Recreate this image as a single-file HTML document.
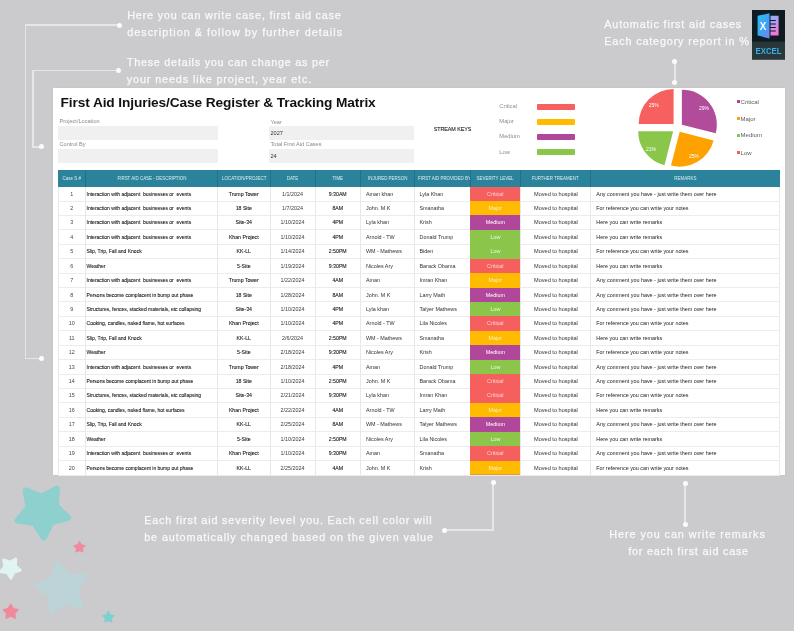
<!DOCTYPE html>
<html><head><meta charset="utf-8"><title>First Aid Injuries/Case Register &amp; Tracking Matrix</title>
<style>
*{margin:0;padding:0;box-sizing:border-box}
html,body{width:794px;height:631px;overflow:hidden}
body{background:#cbcbcd;position:relative;font-family:"Liberation Sans",Arial,sans-serif}
.abs{position:absolute}
.ann{position:absolute;color:#f9f9f9;font-size:10.8px;line-height:12px;white-space:nowrap;-webkit-text-stroke:0.25px #f9f9f9}
.ln{position:absolute;background:#e6e6e8}
.dot{position:absolute;width:5px;height:5px;border-radius:50%;background:#fbfbfb;margin:-2.5px 0 0 -2.5px}
#panel{position:absolute;left:53px;top:88px;width:732px;height:387px;background:#fff;box-shadow:0 0 2px rgba(0,0,0,0.07)}
#title{position:absolute;left:60.6px;top:95.7px;font-size:13.7px;line-height:13.7px;font-weight:bold;color:#111;white-space:nowrap;letter-spacing:-0.11px}
.lbl{position:absolute;font-size:5.6px;color:#8a8a8a;white-space:nowrap}
.box{position:absolute;background:#f0f0f0}
.val{position:absolute;font-size:5.6px;color:#333;white-space:nowrap}
.key{position:absolute;font-size:5.8px;color:#8c8c8c;white-space:nowrap}
.bar{position:absolute;left:536.7px;width:38px;height:6px;border-radius:1px}
.lg{position:absolute;font-size:6px;color:#5a5a5a;white-space:nowrap}
.lgs{position:absolute;width:3px;height:3px}
.th{position:absolute;background:#2b839b}
.hc{position:absolute;color:#d9edf2;font-size:5.2px;padding-top:0.4px;text-align:center;white-space:nowrap;transform:scaleX(0.86)}
.hv{position:absolute;width:1px;background:#236f87}
.td{position:absolute;font-size:5.4px;color:#222;white-space:nowrap;overflow:hidden}
.c0{text-align:center;color:#444}
.c1{padding-left:1.1px;font-size:5.05px;color:#111;-webkit-text-stroke:0.07px #111;letter-spacing:-0.03px}
.c2,.c4{font-size:5.2px;color:#111;-webkit-text-stroke:0.08px #111}
.c2,.c3,.c4{text-align:center}
.c3{color:#3a3a3a}
.c5,.c6{padding-left:5.5px;color:#333}
.c7{text-align:center;color:#fff}
.c8{padding-left:13.6px;color:#333;font-size:5.6px}
.c9{padding-left:5.6px;color:#222}
.crit{background:#f5605f;color:#ffd3d3}
.maj{background:#ffbb00;color:#fff1b8}
.med{background:#b0479b;color:#fff}
.low{background:#8bc64a;color:#e8f8d8}
.hl{position:absolute;height:1px;background:#ececec}
.vl{position:absolute;width:1px;background:#e8e8e8}
</style></head>
<body>
<!-- background stars -->
<svg class="abs" style="left:0;top:0" width="794" height="631" viewBox="0 0 794 631">
<polygon points="56.72,488.94 55.66,505.91 67.8,517.81 51.34,522.04 43.78,537.26 34.67,522.91 17.85,520.43 28.68,507.32 25.85,490.56 41.66,496.82" fill="#8dd0cd" stroke="#8dd0cd" stroke-width="6.4" stroke-linejoin="round"/>
<polygon points="79.5,541.7 81.31,544.81 84.83,545.57 82.43,548.25 82.79,551.83 79.5,550.38 76.21,551.83 76.57,548.25 74.17,545.57 77.69,544.81" fill="#f08a9e" stroke="#f08a9e" stroke-width="1.2" stroke-linejoin="round"/>
<polygon points="15.76,559.07 15.46,565.72 20.29,570.29 13.88,572.06 11.02,578.07 7.35,572.52 0.75,571.66 4.9,566.45 3.68,559.91 9.91,562.25" fill="#e2f3f3" stroke="#e2f3f3" stroke-width="3" stroke-linejoin="round"/>
<polygon points="57.85,564.44 68.2,576.68 84.23,576.85 75.79,590.48 80.58,605.78 65.01,601.95 51.94,611.24 50.76,595.25 37.9,585.69 52.74,579.63" fill="#bcd4d7" stroke="#bcd4d7" stroke-width="5.5" stroke-linejoin="round"/>
<polygon points="10.7,604.4 13.16,608.62 17.93,609.65 14.68,613.29 15.17,618.15 10.7,616.18 6.23,618.15 6.72,613.29 3.47,609.65 8.24,608.62" fill="#f0899c" stroke="#f0899c" stroke-width="1.5" stroke-linejoin="round"/>
<polygon points="108.3,611.5 110.18,614.72 113.82,615.51 111.33,618.29 111.71,621.99 108.3,620.49 104.89,621.99 105.27,618.29 102.78,615.51 106.42,614.72" fill="#7fcfcf" stroke="#7fcfcf" stroke-width="1.2" stroke-linejoin="round"/>
</svg>

<!-- annotations -->
<div class="ann" style="left:127.2px;top:8.86px;letter-spacing:0.821px">Here you can write case, first aid case</div>
<div class="ann" style="left:127.2px;top:25.96px;letter-spacing:1.029px">description &amp; follow by further details</div>
<div class="ann" style="left:126.8px;top:55.56px;letter-spacing:0.759px">These details you can change as per</div>
<div class="ann" style="left:126.8px;top:72.66px;letter-spacing:0.879px">your needs like project, year etc.</div>
<div class="ann" style="left:604.3px;top:18.36px;letter-spacing:0.829px">Automatic first aid cases</div>
<div class="ann" style="left:604.3px;top:35.26px;letter-spacing:0.85px">Each category report in %</div>
<div class="ann" style="left:144.2px;top:513.86px;letter-spacing:0.833px">Each first aid severity level you. Each cell color will</div>
<div class="ann" style="left:144.2px;top:531.06px;letter-spacing:0.902px">be automatically changed based on the given value</div>
<div class="ann" style="left:609.3px;top:528.36px;letter-spacing:0.94px">Here you can write remarks</div>
<div class="ann" style="left:628.3px;top:545.46px;letter-spacing:0.782px">for each first aid case</div>

<!-- connector lines -->
<div class="ln" style="left:24.50px;top:24.20px;width:95.50px;height:1.6px"></div>
<div class="ln" style="left:24.50px;top:24.20px;width:1.6px;height:335.30px"></div>
<div class="ln" style="left:24.50px;top:357.90px;width:18.20px;height:1.6px"></div>
<div class="dot" style="left:119.2px;top:25.0px"></div>
<div class="dot" style="left:41.9px;top:358.7px"></div>
<div class="ln" style="left:32.10px;top:69.90px;width:87.50px;height:1.6px"></div>
<div class="ln" style="left:32.10px;top:69.90px;width:1.6px;height:77.80px"></div>
<div class="ln" style="left:32.10px;top:146.10px;width:10.40px;height:1.6px"></div>
<div class="dot" style="left:118.8px;top:70.7px"></div>
<div class="dot" style="left:41.7px;top:146.9px"></div>
<div class="ln" style="left:674.00px;top:60.20px;width:1.6px;height:23.20px"></div>
<div class="dot" style="left:674.8px;top:61.0px"></div>
<div class="dot" style="left:674.8px;top:82.6px"></div>
<div class="ln" style="left:443.60px;top:529.40px;width:50.20px;height:1.6px"></div>
<div class="ln" style="left:492.20px;top:481.80px;width:1.6px;height:49.20px"></div>
<div class="dot" style="left:444.4px;top:530.2px"></div>
<div class="dot" style="left:493.0px;top:482.6px"></div>
<div class="ln" style="left:684.40px;top:482.40px;width:1.6px;height:43.30px"></div>
<div class="dot" style="left:685.2px;top:483.2px"></div>
<div class="dot" style="left:685.2px;top:524.9px"></div>

<!-- excel icon -->
<svg class="abs" style="left:751.5px;top:10px" width="33" height="49.5" viewBox="0 0 33 49.5">
<defs><linearGradient id="gA" x1="0" y1="0" x2="1" y2="1"><stop offset="0" stop-color="#2cc0f4"/><stop offset="0.6" stop-color="#3f9ff4"/><stop offset="1" stop-color="#8a7cf0"/></linearGradient><linearGradient id="gB" x1="0" y1="0" x2="0.4" y2="1"><stop offset="0" stop-color="#8cb4f6"/><stop offset="0.5" stop-color="#b49af2"/><stop offset="1" stop-color="#f574d9"/></linearGradient></defs>
<rect x="0" y="0" width="33" height="49.5" fill="#0e1c21"/>
<rect x="0" y="31.6" width="33" height="17.9" fill="#29373a"/>
<path d="M5.6 5.8 L17.5 3.3 L17.5 28.4 L5.6 25.6 Z" fill="url(#gA)"/>
<path d="M18.5 5.8 H26.6 V25.4 H18.5 V21.6 H23.8 V20.5 H18.5 V18.1 H23.8 V17.0 H18.5 V14.5 H23.8 V13.4 H18.5 V11.0 H23.8 V9.9 H18.5 Z" fill="url(#gB)"/>
<text x="11.1" y="19.6" font-size="11px" font-weight="bold" fill="#f4fbff" text-anchor="middle" font-family="Liberation Sans,sans-serif" textLength="6.6" lengthAdjust="spacingAndGlyphs">X</text>
<text x="16.6" y="44.1" font-size="9.2px" font-weight="bold" fill="#39afe2" text-anchor="middle" font-family="Liberation Sans,sans-serif" textLength="26" lengthAdjust="spacingAndGlyphs">EXCEL</text>
</svg>

<!-- white sheet panel -->
<div id="panel"></div>
<div id="title">First Aid Injuries/Case Register &amp; Tracking Matrix</div>

<div class="lbl" style="left:59.5px;top:118px">Project/Location</div>
<div class="box" style="left:58px;top:126px;width:159.5px;height:13.7px"></div>
<div class="lbl" style="left:59.5px;top:141px">Control By</div>
<div class="box" style="left:58px;top:149px;width:159.5px;height:14.4px"></div>

<div class="lbl" style="left:270.5px;top:118.5px">Year</div>
<div class="box" style="left:269.2px;top:125.7px;width:144.8px;height:14.8px"></div>
<div class="val" style="left:270.5px;top:129.5px">2027</div>
<div class="lbl" style="left:270.5px;top:141px">Total First Aid Cases</div>
<div class="box" style="left:269.2px;top:149.4px;width:144.8px;height:14.1px"></div>
<div class="val" style="left:270.5px;top:153px">24</div>

<div class="val" style="left:433.8px;top:126px;font-size:5.4px;color:#222;letter-spacing:-0.08px;-webkit-text-stroke:0.1px #222">STREAM KEYS</div>

<div class="key" style="left:499.3px;top:102.5px">Critical</div>
<div class="key" style="left:499.3px;top:118px">Major</div>
<div class="key" style="left:499.3px;top:133px">Medium</div>
<div class="key" style="left:499.3px;top:148.6px">Low</div>
<div class="bar" style="top:103.9px;background:#f6615f"></div>
<div class="bar" style="top:118.5px;background:#ffbb00"></div>
<div class="bar" style="top:133.9px;background:#b0479b"></div>
<div class="bar" style="top:149.4px;background:#8ac64a"></div>

<!-- pie -->
<svg class="abs" style="left:0;top:0" width="794" height="631" viewBox="0 0 794 631">
<path d="M681.85 124.63L681.85 89.63A35 35 0 0 1 715.75 133.33Z" fill="#b24b9a"/>
<text x="703.97" y="109.87" font-size="5px" fill="#fff" text-anchor="middle" font-family="Liberation Sans,sans-serif">29%</text>
<path d="M679.69 131.7L713.59 140.41A35 35 0 0 1 670.98 165.6Z" fill="#ffa200"/>
<text x="693.94" y="158.2" font-size="5px" fill="#fff" text-anchor="middle" font-family="Liberation Sans,sans-serif">25%</text>
<path d="M673.15 131.37L664.45 165.27A35 35 0 0 1 638.15 131.37Z" fill="#8ac64a"/>
<text x="651.03" y="150.93" font-size="5px" fill="#fff" text-anchor="middle" font-family="Liberation Sans,sans-serif">21%</text>
<path d="M673.61 124.11L638.61 124.11A35 35 0 0 1 673.61 89.11Z" fill="#f6615f"/>
<text x="653.81" y="106.71" font-size="5px" fill="#fff" text-anchor="middle" font-family="Liberation Sans,sans-serif">25%</text>
</svg>
<div class="lgs" style="left:737px;top:100.2px;background:#a8489a"></div>
<div class="lg" style="left:740.6px;top:98.5px">Critical</div>
<div class="lgs" style="left:737px;top:117.4px;background:#f3a21a"></div>
<div class="lg" style="left:740.6px;top:115.7px">Major</div>
<div class="lgs" style="left:737px;top:134.1px;background:#8cc159"></div>
<div class="lg" style="left:740.6px;top:132.4px">Medium</div>
<div class="lgs" style="left:737px;top:151.4px;background:#ee5f6a"></div>
<div class="lg" style="left:740.6px;top:149.7px">Low</div>

<div class="th" style="left:58px;top:170px;width:721.5px;height:16.6px"></div>
<div class="hc" style="left:58px;width:27.5px;top:170px;height:16.6px;line-height:16.6px">Case S #</div>
<div class="hc" style="left:85.5px;width:132px;top:170px;height:16.6px;line-height:16.6px">FIRST AID CASE - DESCRIPTION</div>
<div class="hc" style="left:217.5px;width:52.5px;top:170px;height:16.6px;line-height:16.6px">LOCATION/PROJECT</div>
<div class="hc" style="left:270px;width:45px;top:170px;height:16.6px;line-height:16.6px">DATE</div>
<div class="hc" style="left:315px;width:45.5px;top:170px;height:16.6px;line-height:16.6px">TIME</div>
<div class="hc" style="left:360.5px;width:53.5px;top:170px;height:16.6px;line-height:16.6px">INJURED PERSON</div>
<div class="hc" style="left:414px;width:56.3px;top:170px;height:16.6px;line-height:16.6px">FIRST AID PROVIDED BY</div>
<div class="hc" style="left:470.3px;width:50.1px;top:170px;height:16.6px;line-height:16.6px">SEVERITY LEVEL</div>
<div class="hc" style="left:520.4px;width:70.3px;top:170px;height:16.6px;line-height:16.6px">FURTHER TREAMENT</div>
<div class="hc" style="left:590.7px;width:188.8px;top:170px;height:16.6px;line-height:16.6px">REMARKS</div>
<div class="hv" style="left:85px;top:170px;height:16.6px"></div>
<div class="hv" style="left:217px;top:170px;height:16.6px"></div>
<div class="hv" style="left:269.5px;top:170px;height:16.6px"></div>
<div class="hv" style="left:314.5px;top:170px;height:16.6px"></div>
<div class="hv" style="left:360px;top:170px;height:16.6px"></div>
<div class="hv" style="left:413.5px;top:170px;height:16.6px"></div>
<div class="hv" style="left:469.8px;top:170px;height:16.6px"></div>
<div class="hv" style="left:519.9px;top:170px;height:16.6px"></div>
<div class="hv" style="left:590.2px;top:170px;height:16.6px"></div>
<div class="hl" style="left:58px;width:721.5px;top:200.52px"></div>
<div class="hl" style="left:58px;width:721.5px;top:214.94px"></div>
<div class="hl" style="left:58px;width:721.5px;top:229.36px"></div>
<div class="hl" style="left:58px;width:721.5px;top:243.78px"></div>
<div class="hl" style="left:58px;width:721.5px;top:258.2px"></div>
<div class="hl" style="left:58px;width:721.5px;top:272.62px"></div>
<div class="hl" style="left:58px;width:721.5px;top:287.04px"></div>
<div class="hl" style="left:58px;width:721.5px;top:301.46px"></div>
<div class="hl" style="left:58px;width:721.5px;top:315.88px"></div>
<div class="hl" style="left:58px;width:721.5px;top:330.3px"></div>
<div class="hl" style="left:58px;width:721.5px;top:344.72px"></div>
<div class="hl" style="left:58px;width:721.5px;top:359.14px"></div>
<div class="hl" style="left:58px;width:721.5px;top:373.56px"></div>
<div class="hl" style="left:58px;width:721.5px;top:387.98px"></div>
<div class="hl" style="left:58px;width:721.5px;top:402.4px"></div>
<div class="hl" style="left:58px;width:721.5px;top:416.82px"></div>
<div class="hl" style="left:58px;width:721.5px;top:431.24px"></div>
<div class="hl" style="left:58px;width:721.5px;top:445.66px"></div>
<div class="hl" style="left:58px;width:721.5px;top:460.08px"></div>
<div class="hl" style="left:58px;width:721.5px;top:474.5px"></div>
<div class="vl" style="left:57.5px;top:186.6px;height:288.4px"></div>
<div class="vl" style="left:85px;top:186.6px;height:288.4px"></div>
<div class="vl" style="left:217px;top:186.6px;height:288.4px"></div>
<div class="vl" style="left:269.5px;top:186.6px;height:288.4px"></div>
<div class="vl" style="left:314.5px;top:186.6px;height:288.4px"></div>
<div class="vl" style="left:360px;top:186.6px;height:288.4px"></div>
<div class="vl" style="left:413.5px;top:186.6px;height:288.4px"></div>
<div class="vl" style="left:469.8px;top:186.6px;height:288.4px"></div>
<div class="vl" style="left:519.9px;top:186.6px;height:288.4px"></div>
<div class="vl" style="left:590.2px;top:186.6px;height:288.4px"></div>
<div class="vl" style="left:779px;top:186.6px;height:288.4px"></div>
<div class="td c0" style="left:58px;width:27.5px;top:186.6px;height:14.42px;line-height:14.42px">1</div>
<div class="td c1" style="left:85.5px;width:132px;top:186.6px;height:14.42px;line-height:14.42px">Interaction with adjacent&nbsp; businesses or&nbsp; events</div>
<div class="td c2" style="left:217.5px;width:52.5px;top:186.6px;height:14.42px;line-height:14.42px">Trump Tower</div>
<div class="td c3" style="left:270px;width:45px;top:186.6px;height:14.42px;line-height:14.42px">1/1/2024</div>
<div class="td c4" style="left:315px;width:45.5px;top:186.6px;height:14.42px;line-height:14.42px">9:30AM</div>
<div class="td c5" style="left:360.5px;width:53.5px;top:186.6px;height:14.42px;line-height:14.42px">Aman khan</div>
<div class="td c6" style="left:414px;width:56.3px;top:186.6px;height:14.42px;line-height:14.42px">Lyla Khan</div>
<div class="td c7 crit" style="left:470.3px;width:50.1px;top:186.6px;height:14.42px;line-height:14.42px">Critical</div>
<div class="td c8" style="left:520.4px;width:70.3px;top:186.6px;height:14.42px;line-height:14.42px">Moved to hospital</div>
<div class="td c9" style="left:590.7px;width:188.8px;top:186.6px;height:14.42px;line-height:14.42px">Any comment you have - just write them over here</div>
<div class="td c0" style="left:58px;width:27.5px;top:201.02px;height:14.42px;line-height:14.42px">2</div>
<div class="td c1" style="left:85.5px;width:132px;top:201.02px;height:14.42px;line-height:14.42px">Interaction with adjacent&nbsp; businesses or&nbsp; events</div>
<div class="td c2" style="left:217.5px;width:52.5px;top:201.02px;height:14.42px;line-height:14.42px">18 Site</div>
<div class="td c3" style="left:270px;width:45px;top:201.02px;height:14.42px;line-height:14.42px">1/7/2024</div>
<div class="td c4" style="left:315px;width:45.5px;top:201.02px;height:14.42px;line-height:14.42px">8AM</div>
<div class="td c5" style="left:360.5px;width:53.5px;top:201.02px;height:14.42px;line-height:14.42px">John. M K</div>
<div class="td c6" style="left:414px;width:56.3px;top:201.02px;height:14.42px;line-height:14.42px">Smanatha</div>
<div class="td c7 maj" style="left:470.3px;width:50.1px;top:201.02px;height:14.42px;line-height:14.42px">Major</div>
<div class="td c8" style="left:520.4px;width:70.3px;top:201.02px;height:14.42px;line-height:14.42px">Moved to hospital</div>
<div class="td c9" style="left:590.7px;width:188.8px;top:201.02px;height:14.42px;line-height:14.42px">For reference you can write your notes</div>
<div class="td c0" style="left:58px;width:27.5px;top:215.44px;height:14.42px;line-height:14.42px">3</div>
<div class="td c1" style="left:85.5px;width:132px;top:215.44px;height:14.42px;line-height:14.42px">Interaction with adjacent&nbsp; businesses or&nbsp; events</div>
<div class="td c2" style="left:217.5px;width:52.5px;top:215.44px;height:14.42px;line-height:14.42px">Site-34</div>
<div class="td c3" style="left:270px;width:45px;top:215.44px;height:14.42px;line-height:14.42px">1/10/2024</div>
<div class="td c4" style="left:315px;width:45.5px;top:215.44px;height:14.42px;line-height:14.42px">4PM</div>
<div class="td c5" style="left:360.5px;width:53.5px;top:215.44px;height:14.42px;line-height:14.42px">Lyla khan</div>
<div class="td c6" style="left:414px;width:56.3px;top:215.44px;height:14.42px;line-height:14.42px">Krish</div>
<div class="td c7 med" style="left:470.3px;width:50.1px;top:215.44px;height:14.42px;line-height:14.42px">Medium</div>
<div class="td c8" style="left:520.4px;width:70.3px;top:215.44px;height:14.42px;line-height:14.42px">Moved to hospital</div>
<div class="td c9" style="left:590.7px;width:188.8px;top:215.44px;height:14.42px;line-height:14.42px">Here you can write remarks</div>
<div class="td c0" style="left:58px;width:27.5px;top:229.86px;height:14.42px;line-height:14.42px">4</div>
<div class="td c1" style="left:85.5px;width:132px;top:229.86px;height:14.42px;line-height:14.42px">Interaction with adjacent&nbsp; businesses or&nbsp; events</div>
<div class="td c2" style="left:217.5px;width:52.5px;top:229.86px;height:14.42px;line-height:14.42px">Khan Project</div>
<div class="td c3" style="left:270px;width:45px;top:229.86px;height:14.42px;line-height:14.42px">1/10/2024</div>
<div class="td c4" style="left:315px;width:45.5px;top:229.86px;height:14.42px;line-height:14.42px">4PM</div>
<div class="td c5" style="left:360.5px;width:53.5px;top:229.86px;height:14.42px;line-height:14.42px">Arnold - TW</div>
<div class="td c6" style="left:414px;width:56.3px;top:229.86px;height:14.42px;line-height:14.42px">Donald Trump</div>
<div class="td c7 low" style="left:470.3px;width:50.1px;top:229.86px;height:14.42px;line-height:14.42px">Low</div>
<div class="td c8" style="left:520.4px;width:70.3px;top:229.86px;height:14.42px;line-height:14.42px">Moved to hospital</div>
<div class="td c9" style="left:590.7px;width:188.8px;top:229.86px;height:14.42px;line-height:14.42px">Here you can write remarks</div>
<div class="td c0" style="left:58px;width:27.5px;top:244.28px;height:14.42px;line-height:14.42px">5</div>
<div class="td c1" style="left:85.5px;width:132px;top:244.28px;height:14.42px;line-height:14.42px">Slip, Trip, Fall and Knock</div>
<div class="td c2" style="left:217.5px;width:52.5px;top:244.28px;height:14.42px;line-height:14.42px">KK-LL</div>
<div class="td c3" style="left:270px;width:45px;top:244.28px;height:14.42px;line-height:14.42px">1/14/2024</div>
<div class="td c4" style="left:315px;width:45.5px;top:244.28px;height:14.42px;line-height:14.42px">2:50PM</div>
<div class="td c5" style="left:360.5px;width:53.5px;top:244.28px;height:14.42px;line-height:14.42px">WM - Mathews</div>
<div class="td c6" style="left:414px;width:56.3px;top:244.28px;height:14.42px;line-height:14.42px">Biden</div>
<div class="td c7 low" style="left:470.3px;width:50.1px;top:244.28px;height:14.42px;line-height:14.42px">Low</div>
<div class="td c8" style="left:520.4px;width:70.3px;top:244.28px;height:14.42px;line-height:14.42px">Moved to hospital</div>
<div class="td c9" style="left:590.7px;width:188.8px;top:244.28px;height:14.42px;line-height:14.42px">For reference you can write your notes</div>
<div class="td c0" style="left:58px;width:27.5px;top:258.7px;height:14.42px;line-height:14.42px">6</div>
<div class="td c1" style="left:85.5px;width:132px;top:258.7px;height:14.42px;line-height:14.42px">Weather</div>
<div class="td c2" style="left:217.5px;width:52.5px;top:258.7px;height:14.42px;line-height:14.42px">5-Site</div>
<div class="td c3" style="left:270px;width:45px;top:258.7px;height:14.42px;line-height:14.42px">1/19/2024</div>
<div class="td c4" style="left:315px;width:45.5px;top:258.7px;height:14.42px;line-height:14.42px">9:30PM</div>
<div class="td c5" style="left:360.5px;width:53.5px;top:258.7px;height:14.42px;line-height:14.42px">Nicoles Ary</div>
<div class="td c6" style="left:414px;width:56.3px;top:258.7px;height:14.42px;line-height:14.42px">Barack Obama</div>
<div class="td c7 crit" style="left:470.3px;width:50.1px;top:258.7px;height:14.42px;line-height:14.42px">Critical</div>
<div class="td c8" style="left:520.4px;width:70.3px;top:258.7px;height:14.42px;line-height:14.42px">Moved to hospital</div>
<div class="td c9" style="left:590.7px;width:188.8px;top:258.7px;height:14.42px;line-height:14.42px">Here you can write remarks</div>
<div class="td c0" style="left:58px;width:27.5px;top:273.12px;height:14.42px;line-height:14.42px">7</div>
<div class="td c1" style="left:85.5px;width:132px;top:273.12px;height:14.42px;line-height:14.42px">Interaction with adjacent&nbsp; businesses or&nbsp; events</div>
<div class="td c2" style="left:217.5px;width:52.5px;top:273.12px;height:14.42px;line-height:14.42px">Trump Tower</div>
<div class="td c3" style="left:270px;width:45px;top:273.12px;height:14.42px;line-height:14.42px">1/22/2024</div>
<div class="td c4" style="left:315px;width:45.5px;top:273.12px;height:14.42px;line-height:14.42px">4AM</div>
<div class="td c5" style="left:360.5px;width:53.5px;top:273.12px;height:14.42px;line-height:14.42px">Aman</div>
<div class="td c6" style="left:414px;width:56.3px;top:273.12px;height:14.42px;line-height:14.42px">Imran Khan</div>
<div class="td c7 maj" style="left:470.3px;width:50.1px;top:273.12px;height:14.42px;line-height:14.42px">Major</div>
<div class="td c8" style="left:520.4px;width:70.3px;top:273.12px;height:14.42px;line-height:14.42px">Moved to hospital</div>
<div class="td c9" style="left:590.7px;width:188.8px;top:273.12px;height:14.42px;line-height:14.42px">Any comment you have - just write them over here</div>
<div class="td c0" style="left:58px;width:27.5px;top:287.54px;height:14.42px;line-height:14.42px">8</div>
<div class="td c1" style="left:85.5px;width:132px;top:287.54px;height:14.42px;line-height:14.42px">Persons become complacent in bump out phase</div>
<div class="td c2" style="left:217.5px;width:52.5px;top:287.54px;height:14.42px;line-height:14.42px">18 Site</div>
<div class="td c3" style="left:270px;width:45px;top:287.54px;height:14.42px;line-height:14.42px">1/28/2024</div>
<div class="td c4" style="left:315px;width:45.5px;top:287.54px;height:14.42px;line-height:14.42px">8AM</div>
<div class="td c5" style="left:360.5px;width:53.5px;top:287.54px;height:14.42px;line-height:14.42px">John. M K</div>
<div class="td c6" style="left:414px;width:56.3px;top:287.54px;height:14.42px;line-height:14.42px">Larry Math</div>
<div class="td c7 med" style="left:470.3px;width:50.1px;top:287.54px;height:14.42px;line-height:14.42px">Medium</div>
<div class="td c8" style="left:520.4px;width:70.3px;top:287.54px;height:14.42px;line-height:14.42px">Moved to hospital</div>
<div class="td c9" style="left:590.7px;width:188.8px;top:287.54px;height:14.42px;line-height:14.42px">Any comment you have - just write them over here</div>
<div class="td c0" style="left:58px;width:27.5px;top:301.96px;height:14.42px;line-height:14.42px">9</div>
<div class="td c1" style="left:85.5px;width:132px;top:301.96px;height:14.42px;line-height:14.42px">Structures, fences, stacked materials, etc collapsing</div>
<div class="td c2" style="left:217.5px;width:52.5px;top:301.96px;height:14.42px;line-height:14.42px">Site-34</div>
<div class="td c3" style="left:270px;width:45px;top:301.96px;height:14.42px;line-height:14.42px">1/10/2024</div>
<div class="td c4" style="left:315px;width:45.5px;top:301.96px;height:14.42px;line-height:14.42px">4PM</div>
<div class="td c5" style="left:360.5px;width:53.5px;top:301.96px;height:14.42px;line-height:14.42px">Lyla khan</div>
<div class="td c6" style="left:414px;width:56.3px;top:301.96px;height:14.42px;line-height:14.42px">Talyer Mathews</div>
<div class="td c7 low" style="left:470.3px;width:50.1px;top:301.96px;height:14.42px;line-height:14.42px">Low</div>
<div class="td c8" style="left:520.4px;width:70.3px;top:301.96px;height:14.42px;line-height:14.42px">Moved to hospital</div>
<div class="td c9" style="left:590.7px;width:188.8px;top:301.96px;height:14.42px;line-height:14.42px">Any comment you have - just write them over here</div>
<div class="td c0" style="left:58px;width:27.5px;top:316.38px;height:14.42px;line-height:14.42px">10</div>
<div class="td c1" style="left:85.5px;width:132px;top:316.38px;height:14.42px;line-height:14.42px">Cooking, candles, naked flame, hot surfaces</div>
<div class="td c2" style="left:217.5px;width:52.5px;top:316.38px;height:14.42px;line-height:14.42px">Khan Project</div>
<div class="td c3" style="left:270px;width:45px;top:316.38px;height:14.42px;line-height:14.42px">1/10/2024</div>
<div class="td c4" style="left:315px;width:45.5px;top:316.38px;height:14.42px;line-height:14.42px">4PM</div>
<div class="td c5" style="left:360.5px;width:53.5px;top:316.38px;height:14.42px;line-height:14.42px">Arnold - TW</div>
<div class="td c6" style="left:414px;width:56.3px;top:316.38px;height:14.42px;line-height:14.42px">Lila Nicoles</div>
<div class="td c7 crit" style="left:470.3px;width:50.1px;top:316.38px;height:14.42px;line-height:14.42px">Critical</div>
<div class="td c8" style="left:520.4px;width:70.3px;top:316.38px;height:14.42px;line-height:14.42px">Moved to hospital</div>
<div class="td c9" style="left:590.7px;width:188.8px;top:316.38px;height:14.42px;line-height:14.42px">For reference you can write your notes</div>
<div class="td c0" style="left:58px;width:27.5px;top:330.8px;height:14.42px;line-height:14.42px">11</div>
<div class="td c1" style="left:85.5px;width:132px;top:330.8px;height:14.42px;line-height:14.42px">Slip, Trip, Fall and Knock</div>
<div class="td c2" style="left:217.5px;width:52.5px;top:330.8px;height:14.42px;line-height:14.42px">KK-LL</div>
<div class="td c3" style="left:270px;width:45px;top:330.8px;height:14.42px;line-height:14.42px">2/6/2024</div>
<div class="td c4" style="left:315px;width:45.5px;top:330.8px;height:14.42px;line-height:14.42px">2:50PM</div>
<div class="td c5" style="left:360.5px;width:53.5px;top:330.8px;height:14.42px;line-height:14.42px">WM - Mathews</div>
<div class="td c6" style="left:414px;width:56.3px;top:330.8px;height:14.42px;line-height:14.42px">Smanatha</div>
<div class="td c7 maj" style="left:470.3px;width:50.1px;top:330.8px;height:14.42px;line-height:14.42px">Major</div>
<div class="td c8" style="left:520.4px;width:70.3px;top:330.8px;height:14.42px;line-height:14.42px">Moved to hospital</div>
<div class="td c9" style="left:590.7px;width:188.8px;top:330.8px;height:14.42px;line-height:14.42px">Here you can write remarks</div>
<div class="td c0" style="left:58px;width:27.5px;top:345.22px;height:14.42px;line-height:14.42px">12</div>
<div class="td c1" style="left:85.5px;width:132px;top:345.22px;height:14.42px;line-height:14.42px">Weather</div>
<div class="td c2" style="left:217.5px;width:52.5px;top:345.22px;height:14.42px;line-height:14.42px">5-Site</div>
<div class="td c3" style="left:270px;width:45px;top:345.22px;height:14.42px;line-height:14.42px">2/18/2024</div>
<div class="td c4" style="left:315px;width:45.5px;top:345.22px;height:14.42px;line-height:14.42px">9:30PM</div>
<div class="td c5" style="left:360.5px;width:53.5px;top:345.22px;height:14.42px;line-height:14.42px">Nicoles Ary</div>
<div class="td c6" style="left:414px;width:56.3px;top:345.22px;height:14.42px;line-height:14.42px">Krish</div>
<div class="td c7 med" style="left:470.3px;width:50.1px;top:345.22px;height:14.42px;line-height:14.42px">Medium</div>
<div class="td c8" style="left:520.4px;width:70.3px;top:345.22px;height:14.42px;line-height:14.42px">Moved to hospital</div>
<div class="td c9" style="left:590.7px;width:188.8px;top:345.22px;height:14.42px;line-height:14.42px">For reference you can write your notes</div>
<div class="td c0" style="left:58px;width:27.5px;top:359.64px;height:14.42px;line-height:14.42px">13</div>
<div class="td c1" style="left:85.5px;width:132px;top:359.64px;height:14.42px;line-height:14.42px">Interaction with adjacent&nbsp; businesses or&nbsp; events</div>
<div class="td c2" style="left:217.5px;width:52.5px;top:359.64px;height:14.42px;line-height:14.42px">Trump Tower</div>
<div class="td c3" style="left:270px;width:45px;top:359.64px;height:14.42px;line-height:14.42px">2/18/2024</div>
<div class="td c4" style="left:315px;width:45.5px;top:359.64px;height:14.42px;line-height:14.42px">4PM</div>
<div class="td c5" style="left:360.5px;width:53.5px;top:359.64px;height:14.42px;line-height:14.42px">Aman</div>
<div class="td c6" style="left:414px;width:56.3px;top:359.64px;height:14.42px;line-height:14.42px">Donald Trump</div>
<div class="td c7 low" style="left:470.3px;width:50.1px;top:359.64px;height:14.42px;line-height:14.42px">Low</div>
<div class="td c8" style="left:520.4px;width:70.3px;top:359.64px;height:14.42px;line-height:14.42px">Moved to hospital</div>
<div class="td c9" style="left:590.7px;width:188.8px;top:359.64px;height:14.42px;line-height:14.42px">Any comment you have - just write them over here</div>
<div class="td c0" style="left:58px;width:27.5px;top:374.06px;height:14.42px;line-height:14.42px">14</div>
<div class="td c1" style="left:85.5px;width:132px;top:374.06px;height:14.42px;line-height:14.42px">Persons become complacent in bump out phase</div>
<div class="td c2" style="left:217.5px;width:52.5px;top:374.06px;height:14.42px;line-height:14.42px">18 Site</div>
<div class="td c3" style="left:270px;width:45px;top:374.06px;height:14.42px;line-height:14.42px">1/10/2024</div>
<div class="td c4" style="left:315px;width:45.5px;top:374.06px;height:14.42px;line-height:14.42px">2:50PM</div>
<div class="td c5" style="left:360.5px;width:53.5px;top:374.06px;height:14.42px;line-height:14.42px">John. M K</div>
<div class="td c6" style="left:414px;width:56.3px;top:374.06px;height:14.42px;line-height:14.42px">Barack Obama</div>
<div class="td c7 crit" style="left:470.3px;width:50.1px;top:374.06px;height:14.42px;line-height:14.42px">Critical</div>
<div class="td c8" style="left:520.4px;width:70.3px;top:374.06px;height:14.42px;line-height:14.42px">Moved to hospital</div>
<div class="td c9" style="left:590.7px;width:188.8px;top:374.06px;height:14.42px;line-height:14.42px">Any comment you have - just write them over here</div>
<div class="td c0" style="left:58px;width:27.5px;top:388.48px;height:14.42px;line-height:14.42px">15</div>
<div class="td c1" style="left:85.5px;width:132px;top:388.48px;height:14.42px;line-height:14.42px">Structures, fences, stacked materials, etc collapsing</div>
<div class="td c2" style="left:217.5px;width:52.5px;top:388.48px;height:14.42px;line-height:14.42px">Site-34</div>
<div class="td c3" style="left:270px;width:45px;top:388.48px;height:14.42px;line-height:14.42px">2/21/2024</div>
<div class="td c4" style="left:315px;width:45.5px;top:388.48px;height:14.42px;line-height:14.42px">9:30PM</div>
<div class="td c5" style="left:360.5px;width:53.5px;top:388.48px;height:14.42px;line-height:14.42px">Lyla khan</div>
<div class="td c6" style="left:414px;width:56.3px;top:388.48px;height:14.42px;line-height:14.42px">Imran Khan</div>
<div class="td c7 crit" style="left:470.3px;width:50.1px;top:388.48px;height:14.42px;line-height:14.42px">Critical</div>
<div class="td c8" style="left:520.4px;width:70.3px;top:388.48px;height:14.42px;line-height:14.42px">Moved to hospital</div>
<div class="td c9" style="left:590.7px;width:188.8px;top:388.48px;height:14.42px;line-height:14.42px">For reference you can write your notes</div>
<div class="td c0" style="left:58px;width:27.5px;top:402.9px;height:14.42px;line-height:14.42px">16</div>
<div class="td c1" style="left:85.5px;width:132px;top:402.9px;height:14.42px;line-height:14.42px">Cooking, candles, naked flame, hot surfaces</div>
<div class="td c2" style="left:217.5px;width:52.5px;top:402.9px;height:14.42px;line-height:14.42px">Khan Project</div>
<div class="td c3" style="left:270px;width:45px;top:402.9px;height:14.42px;line-height:14.42px">2/22/2024</div>
<div class="td c4" style="left:315px;width:45.5px;top:402.9px;height:14.42px;line-height:14.42px">4AM</div>
<div class="td c5" style="left:360.5px;width:53.5px;top:402.9px;height:14.42px;line-height:14.42px">Arnold - TW</div>
<div class="td c6" style="left:414px;width:56.3px;top:402.9px;height:14.42px;line-height:14.42px">Larry Math</div>
<div class="td c7 maj" style="left:470.3px;width:50.1px;top:402.9px;height:14.42px;line-height:14.42px">Major</div>
<div class="td c8" style="left:520.4px;width:70.3px;top:402.9px;height:14.42px;line-height:14.42px">Moved to hospital</div>
<div class="td c9" style="left:590.7px;width:188.8px;top:402.9px;height:14.42px;line-height:14.42px">Here you can write remarks</div>
<div class="td c0" style="left:58px;width:27.5px;top:417.32px;height:14.42px;line-height:14.42px">17</div>
<div class="td c1" style="left:85.5px;width:132px;top:417.32px;height:14.42px;line-height:14.42px">Slip, Trip, Fall and Knock</div>
<div class="td c2" style="left:217.5px;width:52.5px;top:417.32px;height:14.42px;line-height:14.42px">KK-LL</div>
<div class="td c3" style="left:270px;width:45px;top:417.32px;height:14.42px;line-height:14.42px">2/25/2024</div>
<div class="td c4" style="left:315px;width:45.5px;top:417.32px;height:14.42px;line-height:14.42px">8AM</div>
<div class="td c5" style="left:360.5px;width:53.5px;top:417.32px;height:14.42px;line-height:14.42px">WM - Mathews</div>
<div class="td c6" style="left:414px;width:56.3px;top:417.32px;height:14.42px;line-height:14.42px">Talyer Mathews</div>
<div class="td c7 med" style="left:470.3px;width:50.1px;top:417.32px;height:14.42px;line-height:14.42px">Medium</div>
<div class="td c8" style="left:520.4px;width:70.3px;top:417.32px;height:14.42px;line-height:14.42px">Moved to hospital</div>
<div class="td c9" style="left:590.7px;width:188.8px;top:417.32px;height:14.42px;line-height:14.42px">Any comment you have - just write them over here</div>
<div class="td c0" style="left:58px;width:27.5px;top:431.74px;height:14.42px;line-height:14.42px">18</div>
<div class="td c1" style="left:85.5px;width:132px;top:431.74px;height:14.42px;line-height:14.42px">Weather</div>
<div class="td c2" style="left:217.5px;width:52.5px;top:431.74px;height:14.42px;line-height:14.42px">5-Site</div>
<div class="td c3" style="left:270px;width:45px;top:431.74px;height:14.42px;line-height:14.42px">1/10/2024</div>
<div class="td c4" style="left:315px;width:45.5px;top:431.74px;height:14.42px;line-height:14.42px">2:50PM</div>
<div class="td c5" style="left:360.5px;width:53.5px;top:431.74px;height:14.42px;line-height:14.42px">Nicoles Ary</div>
<div class="td c6" style="left:414px;width:56.3px;top:431.74px;height:14.42px;line-height:14.42px">Lila Nicoles</div>
<div class="td c7 low" style="left:470.3px;width:50.1px;top:431.74px;height:14.42px;line-height:14.42px">Low</div>
<div class="td c8" style="left:520.4px;width:70.3px;top:431.74px;height:14.42px;line-height:14.42px">Moved to hospital</div>
<div class="td c9" style="left:590.7px;width:188.8px;top:431.74px;height:14.42px;line-height:14.42px">Here you can write remarks</div>
<div class="td c0" style="left:58px;width:27.5px;top:446.16px;height:14.42px;line-height:14.42px">19</div>
<div class="td c1" style="left:85.5px;width:132px;top:446.16px;height:14.42px;line-height:14.42px">Interaction with adjacent&nbsp; businesses or&nbsp; events</div>
<div class="td c2" style="left:217.5px;width:52.5px;top:446.16px;height:14.42px;line-height:14.42px">Khan Project</div>
<div class="td c3" style="left:270px;width:45px;top:446.16px;height:14.42px;line-height:14.42px">1/10/2024</div>
<div class="td c4" style="left:315px;width:45.5px;top:446.16px;height:14.42px;line-height:14.42px">9:30PM</div>
<div class="td c5" style="left:360.5px;width:53.5px;top:446.16px;height:14.42px;line-height:14.42px">Aman</div>
<div class="td c6" style="left:414px;width:56.3px;top:446.16px;height:14.42px;line-height:14.42px">Smanatha</div>
<div class="td c7 crit" style="left:470.3px;width:50.1px;top:446.16px;height:14.42px;line-height:14.42px">Critical</div>
<div class="td c8" style="left:520.4px;width:70.3px;top:446.16px;height:14.42px;line-height:14.42px">Moved to hospital</div>
<div class="td c9" style="left:590.7px;width:188.8px;top:446.16px;height:14.42px;line-height:14.42px">Any comment you have - just write them over here</div>
<div class="td c0" style="left:58px;width:27.5px;top:460.58px;height:14.42px;line-height:14.42px">20</div>
<div class="td c1" style="left:85.5px;width:132px;top:460.58px;height:14.42px;line-height:14.42px">Persons become complacent in bump out phase</div>
<div class="td c2" style="left:217.5px;width:52.5px;top:460.58px;height:14.42px;line-height:14.42px">KK-LL</div>
<div class="td c3" style="left:270px;width:45px;top:460.58px;height:14.42px;line-height:14.42px">2/25/2024</div>
<div class="td c4" style="left:315px;width:45.5px;top:460.58px;height:14.42px;line-height:14.42px">4AM</div>
<div class="td c5" style="left:360.5px;width:53.5px;top:460.58px;height:14.42px;line-height:14.42px">John. M K</div>
<div class="td c6" style="left:414px;width:56.3px;top:460.58px;height:14.42px;line-height:14.42px">Krish</div>
<div class="td c7 maj" style="left:470.3px;width:50.1px;top:460.58px;height:14.42px;line-height:14.42px">Major</div>
<div class="td c8" style="left:520.4px;width:70.3px;top:460.58px;height:14.42px;line-height:14.42px">Moved to hospital</div>
<div class="td c9" style="left:590.7px;width:188.8px;top:460.58px;height:14.42px;line-height:14.42px">For reference you can write your notes</div>
<div class="abs" style="left:470.3px;top:474.2px;width:50.1px;height:1.2px;background:#e2963c"></div>
</body></html>
